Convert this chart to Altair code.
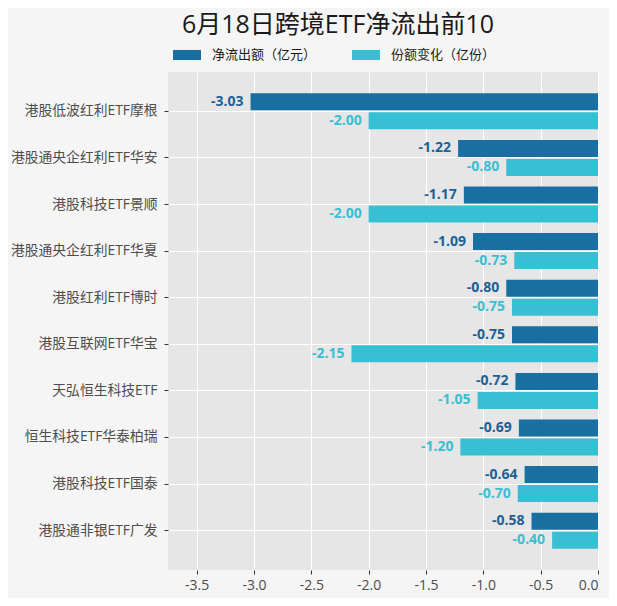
import pandas as pd
import altair as alt

# 数据：自上而下的顺序
etfs = [
    "港股低波红利ETF摩根",
    "港股通央企红利ETF华安",
    "港股科技ETF景顺",
    "港股通央企红利ETF华夏",
    "港股红利ETF博时",
    "港股互联网ETF华宝",
    "天弘恒生科技ETF",
    "恒生科技ETF华泰柏瑞",
    "港股科技ETF国泰",
    "港股通非银ETF广发",
]
net_outflow = [-3.03, -1.22, -1.17, -1.09, -0.80, -0.75, -0.72, -0.69, -0.64, -0.58]   # 亿元
share_change = [-2.00, -0.80, -2.00, -0.73, -0.75, -2.15, -1.05, -1.20, -0.70, -0.40]  # 亿份
series_names = ["净流出额（亿元）", "份额变化（亿份）"]
bar_colors = ["#196FA1", "#39BFD3"]
label_colors = ["#1A6197", "#39BFD3"]
x_ticks = [-3.5, -3.0, -2.5, -2.0, -1.5, -1.0, -0.5, 0.0]

rows = []
for name, a, b in zip(etfs, net_outflow, share_change):
    rows.append({"etf": name, "series": series_names[0], "value": a,
                 "label": f"{a:.2f}", "tcolor": label_colors[0]})
    rows.append({"etf": name, "series": series_names[1], "value": b,
                 "label": f"{b:.2f}", "tcolor": label_colors[1]})
df = pd.DataFrame(rows)

font = "Open Sans, Noto Sans CJK SC"

y_enc = alt.Y("etf:N", sort=etfs,
              scale=alt.Scale(paddingInner=0.227, paddingOuter=0.457),
              axis=alt.Axis(title=None, bandPosition=0.5, labelFontSize=13.8,
                            labelColor="#4D4D4D", tickColor="#333333", tickSize=4,
                            labelPadding=7, domain=False, grid=True,
                            gridColor="white", gridWidth=1.1))
yoff_enc = alt.YOffset("series:N", sort=series_names,
                       scale=alt.Scale(paddingInner=0.105))
x_enc = alt.X("value:Q",
              scale=alt.Scale(domain=[-3.75, 0], nice=False, zero=False),
              axis=alt.Axis(title=None, values=x_ticks,
                            labelExpr="replace(format(datum.value, '.1f'), '\u2212', '-')",
                            labelFontSize=14, labelColor="#4D4D4D",
                            tickColor="#333333", tickSize=4, labelPadding=4,
                            domain=False, grid=True, gridColor="white", gridWidth=1.1))

bars = alt.Chart(df).mark_bar().encode(
    x=x_enc,
    y=y_enc,
    yOffset=yoff_enc,
    color=alt.Color("series:N", sort=series_names,
                    scale=alt.Scale(domain=series_names, range=bar_colors),
                    legend=alt.Legend(title=None, orient="none", direction="horizontal",
                                      legendX=5, legendY=-31, padding=0,
                                      symbolType="M-1,-0.36H1V0.36H-1Z", symbolSize=784,
                                      symbolStrokeWidth=0, labelFontSize=13,
                                      labelColor="#1A1A1A", labelOffset=11,
                                      columnPadding=35)),
)

labels = alt.Chart(df).mark_text(align="right", baseline="middle", dx=-7,
                                 fontWeight="bold", fontSize=14).encode(
    x="value:Q",
    y=alt.Y("etf:N", sort=etfs),
    yOffset=alt.YOffset("series:N", sort=series_names),
    text="label:N",
    color=alt.Color("tcolor:N", scale=None),
)

chart = (bars + labels).properties(
    width=430,
    height=498,
    title=alt.TitleParams(text="6月18日跨境ETF净流出前10", fontSize=25,
                          fontWeight="normal", color="#1A1A1A", anchor="middle",
                          dx=-45, offset=3),
    autosize=alt.AutoSizeParams(type="none"),
    padding={"left": 160, "top": 64, "right": 11, "bottom": 28},
).configure(
    background="#F5F5F5",
    font=font,
).configure_view(
    fill="#E6E6E6",
    stroke=None,
)

chart.save("out.html", embed_options={"renderer": "svg", "actions": False})
